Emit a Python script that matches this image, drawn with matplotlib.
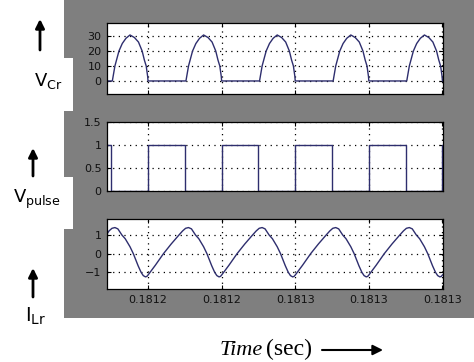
import numpy as np
import matplotlib
matplotlib.use('Agg')
import matplotlib.pyplot as plt
from matplotlib.patches import Rectangle, FancyArrowPatch

# time axis: microseconds after T0 seconds
T0 = 0.18120
x_range_us = [8.85, 100.15]
tick_us = [20, 40, 60, 80, 100]
tick_labels = ['0.1812', '0.1812', '0.1813', '0.1813', '0.1813']

# resonant capacitor voltage V_Cr
vcr_us = [8.85,
          10.3, 11.0, 12.1, 13.0, 14.0, 15.1, 16.3, 17.4, 18.4, 19.0, 19.5, 19.9, 20.0,
          30.3, 31.0, 32.1, 33.0, 34.0, 35.1, 36.3, 37.4, 38.4, 39.0, 39.5, 39.9, 40.0,
          50.3, 51.0, 52.1, 53.0, 54.0, 55.1, 56.3, 57.4, 58.4, 59.0, 59.5, 59.9, 60.0,
          70.3, 71.0, 72.1, 73.0, 74.0, 75.1, 76.3, 77.4, 78.4, 79.0, 79.5, 79.9, 80.0,
          90.3, 91.0, 92.1, 93.0, 94.0, 95.1, 96.3, 97.4, 98.4, 99.0, 99.5, 99.9, 100.0,
          100.15]
vcr = [0,
       0, 10, 20, 25, 28.5, 30.7, 29.0, 26, 20, 14, 10, 3, 0,
       0, 10, 20, 25, 28.5, 30.7, 29.0, 26, 20, 14, 10, 3, 0,
       0, 10, 20, 25, 28.5, 30.7, 29.0, 26, 20, 14, 10, 3, 0,
       0, 10, 20, 25, 28.5, 30.7, 29.0, 26, 20, 14, 10, 3, 0,
       0, 10, 20, 25, 28.5, 30.7, 29.0, 26, 20, 14, 10, 3, 0,
       0]

# gate pulse (step edges)
pulse_us = [8.85, 10, 20, 30, 40, 50, 60, 70, 80, 90, 100, 100.15]
pulse = [1, 0, 1, 0, 1, 0, 1, 0, 1, 0, 1, 1]

# resonant inductor current I_Lr
ilr_us = [8.85, 9.4, 10.2, 11.0, 11.8, 12.9, 13.8, 15.1, 16.0, 17.3, 18.1, 18.7, 19.3, 19.7,
          20.0, 22.0, 24.2, 26.3, 28.4, 29.4, 30.2, 31.0, 31.8, 32.9, 33.8, 35.1, 36.0, 37.3, 38.1, 38.7, 39.3, 39.7,
          40.0, 42.0, 44.2, 46.3, 48.4, 49.4, 50.2, 51.0, 51.8, 52.9, 53.8, 55.1, 56.0, 57.3, 58.1, 58.7, 59.3, 59.7,
          60.0, 62.0, 64.2, 66.3, 68.4, 69.4, 70.2, 71.0, 71.8, 72.9, 73.8, 75.1, 76.0, 77.3, 78.1, 78.7, 79.3, 79.7,
          80.0, 82.0, 84.2, 86.3, 88.4, 89.4, 90.2, 91.0, 91.8, 92.9, 93.8, 95.1, 96.0, 97.3, 98.1, 98.7, 99.3, 99.7,
          100.0, 100.15]
ilr = [1.05, 1.22, 1.36, 1.40, 1.33, 1.00, 0.80, 0.37, 0.00, -0.65, -1.00, -1.18, -1.25, -1.22,
       -1.15, -0.62, 0.00, 0.52, 1.00, 1.22, 1.36, 1.40, 1.33, 1.00, 0.80, 0.37, 0.00, -0.65, -1.00, -1.18, -1.25, -1.22,
       -1.15, -0.62, 0.00, 0.52, 1.00, 1.22, 1.36, 1.40, 1.33, 1.00, 0.80, 0.37, 0.00, -0.65, -1.00, -1.18, -1.25, -1.22,
       -1.15, -0.62, 0.00, 0.52, 1.00, 1.22, 1.36, 1.40, 1.33, 1.00, 0.80, 0.37, 0.00, -0.65, -1.00, -1.18, -1.25, -1.22,
       -1.15, -0.62, 0.00, 0.52, 1.00, 1.22, 1.36, 1.40, 1.33, 1.00, 0.80, 0.37, 0.00, -0.65, -1.00, -1.18, -1.25, -1.22,
       -1.15, -1.12]

GRAY = '#7f7f7f'
LINE = '#2e2e6e'
W, H = 474, 362


def to_s(us):
    return T0 + np.array(us) * 1e-6


def box(x0, y0, x1, y1):
    # pixel box (top-left origin) -> figure fraction
    return [x0 / W, 1 - y1 / H, (x1 - x0) / W, (y1 - y0) / H]


def fig_arrow(x0, y0, x1, y1, lw, size):
    # arrow between two pixel points (top-left origin)
    fig.add_artist(FancyArrowPatch((x0 / W, 1 - y0 / H), (x1 / W, 1 - y1 / H),
                                   transform=fig.transFigure, arrowstyle='-|>',
                                   color='black', lw=lw, mutation_scale=size,
                                   shrinkA=0, shrinkB=0))


fig = plt.figure(figsize=(W / 100, H / 100), dpi=100)
fig.patch.set_facecolor('white')

# scope-style gray panel with two white notches on the left
fig.add_artist(Rectangle((64 / W, 1 - 318 / H), (W - 64) / W, 318 / H,
                         transform=fig.transFigure, facecolor=GRAY, edgecolor='none', zorder=-2))
for y0, y1 in [(58, 111), (177, 229)]:
    fig.add_artist(Rectangle((64 / W, 1 - y1 / H), 9 / W, (y1 - y0) / H,
                             transform=fig.transFigure, facecolor='white', edgecolor='none', zorder=-1))

ax1 = fig.add_axes(box(107, 23, 443, 94))
ax2 = fig.add_axes(box(107, 122, 443, 191))
ax3 = fig.add_axes(box(107, 219, 443, 289))

ax1.plot(to_s(vcr_us), vcr, color=LINE, lw=1)
ax1.set_ylim(-8.7, 38.7)
ax1.set_yticks([0, 10, 20, 30])

ax2.plot(to_s(pulse_us), pulse, color=LINE, lw=1, drawstyle='steps-post')
ax2.set_ylim(0, 1.5)
ax2.set_yticks([0, 0.5, 1, 1.5])
ax2.set_yticklabels(['0', '0.5', '1', '1.5'])

ax3.plot(to_s(ilr_us), ilr, color=LINE, lw=1)
ax3.set_ylim(-1.9, 1.86)
ax3.set_yticks([-1, 0, 1])

for ax in (ax1, ax2, ax3):
    ax.set_xlim(to_s(x_range_us))
    ax.set_xticks(to_s(tick_us))
    ax.set_facecolor('white')
    ax.grid(True, color='black', linestyle=(0, (1, 3.5)), linewidth=0.9)
    ax.tick_params(direction='in', length=3, top=True, right=True,
                   labelsize=8, labelcolor='#111111', pad=4)
    for sp in ax.spines.values():
        sp.set_linewidth(0.9)
ax1.set_xticklabels([])
ax2.set_xticklabels([])
ax3.set_xticklabels(tick_labels)

# signal names with arrows on the left
fig.text(34 / W, 1 - 81 / H, r'V$_{\mathrm{Cr}}$', fontsize=13, va='center', ha='left')
fig.text(13 / W, 1 - 199 / H, r'V$_{\mathrm{pulse}}$', fontsize=13, va='center', ha='left')
fig.text(25 / W, 1 - 316 / H, r'I$_{\mathrm{Lr}}$', fontsize=14, va='center', ha='left')
fig_arrow(40, 50, 40, 19, 2, 13)
fig_arrow(33, 176, 33, 148, 2, 13)
fig_arrow(33, 297, 33, 268, 2, 13)

# time axis caption
fig.text(220 / W, 7 / H, 'Time', family='Liberation Serif', style='italic',
         fontsize=16, va='baseline', ha='left')
fig.text(266 / W, 7 / H, '(sec)', family='Liberation Serif', fontsize=17,
         va='baseline', ha='left')
fig_arrow(322, 350, 383, 350, 1.5, 15)

fig.savefig('out.png', dpi=100)
